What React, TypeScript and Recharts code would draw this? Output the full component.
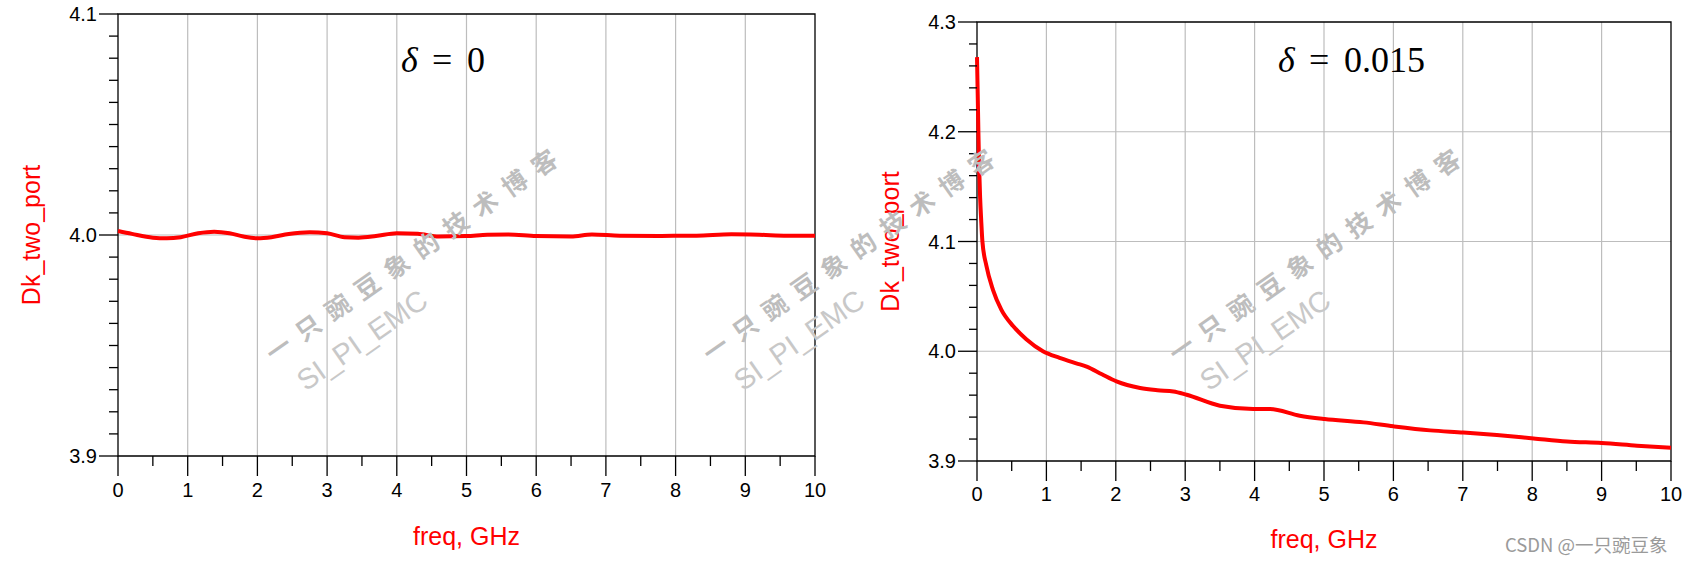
import React from 'react';
import { LineChart, Line, XAxis, YAxis, CartesianGrid, ReferenceArea } from 'recharts';

// ---------- data ----------
const freqLeft = [0, 0.2, 0.5, 0.7, 0.9, 1.15, 1.38, 1.6, 1.8, 2.0, 2.2, 2.45, 2.75, 3.0, 3.25, 3.45, 3.7, 4.0, 4.3, 4.6, 5.0, 5.3, 5.6, 6.0, 6.5, 6.8, 7.2, 7.8, 8.3, 8.8, 9.2, 9.6, 10];
const dkLeft = [4.0018, 4.0005, 3.9988, 3.9985, 3.999, 4.0008, 4.0015, 4.0008, 3.9993, 3.9985, 3.999, 4.0005, 4.0013, 4.0008, 3.999, 3.9988, 3.9995, 4.0008, 4.0006, 3.9993, 3.9995, 4.0001, 4.0002, 3.9995, 3.9993, 4.0002, 3.9997, 3.9996, 3.9997, 4.0003, 4.0001, 3.9997, 3.9997];

const freqRight = [0, 0.01, 0.02, 0.03, 0.045, 0.06, 0.078, 0.135, 0.23, 0.35, 0.52, 0.71, 0.95, 1.19, 1.43, 1.58, 1.8, 2.01, 2.35, 2.6, 2.83, 3.02, 3.5, 3.98, 4.22, 4.65, 5.01, 5.57, 6.0, 6.53, 7.01, 7.49, 8.02, 8.5, 9.0, 9.51, 10];
const dkRight = [4.268, 4.235, 4.2, 4.17, 4.14, 4.12, 4.1, 4.078, 4.056, 4.038, 4.023, 4.011, 4.0, 3.994, 3.989, 3.986, 3.979, 3.9725, 3.9665, 3.9645, 3.9634, 3.9604, 3.9504, 3.9474, 3.9474, 3.9413, 3.9383, 3.9352, 3.9316, 3.9279, 3.926, 3.9237, 3.9206, 3.9178, 3.9164, 3.914, 3.912];

const xMajorTicks = [0, 1, 2, 3, 4, 5, 6, 7, 8, 9, 10];
const xMinorTicks = [0.5, 1.5, 2.5, 3.5, 4.5, 5.5, 6.5, 7.5, 8.5, 9.5];
const xGridValues = [1, 2, 3, 4, 5, 6, 7, 8, 9];

const yLeftMajor = [3.9, 4.0, 4.1];
const yLeftMinor = [3.91, 3.92, 3.93, 3.94, 3.95, 3.96, 3.97, 3.98, 3.99, 4.01, 4.02, 4.03, 4.04, 4.05, 4.06, 4.07, 4.08, 4.09];
const yLeftGrid = [4.0];

const yRightMajor = [3.9, 4.0, 4.1, 4.2, 4.3];
const yRightMinor = [3.92, 3.94, 3.96, 3.98, 4.02, 4.04, 4.06, 4.08, 4.12, 4.14, 4.16, 4.18, 4.22, 4.24, 4.26, 4.28];
const yRightGrid = [4.0, 4.1, 4.2];

const deltaSymbol = 'δ';
const deltaLeftValue = '0';
const deltaRightValue = '0.015';
const xLabel = 'freq, GHz';
const yLabel = 'Dk_two_port';
const watermarkCn = '一只豌豆象的技术博客';
const watermarkEn = 'SI_PI_EMC';
const csdnMark = 'CSDN @一只豌豆象';

const leftData = freqLeft.map((f, i) => ({ f, dk: dkLeft[i] }));
const rightData = freqRight.map((f, i) => ({ f, dk: dkRight[i] }));

const SANS = '"Liberation Sans", Arial, sans-serif';
const SERIF = '"Liberation Serif", "DejaVu Serif", serif';
const CJK = '"Noto Sans CJK SC", sans-serif';

const isIn = (arr: number[], v: number) => arr.some((a) => Math.abs(a - v) < 1e-9);

const makeXTick = (labelDy: number) => (props: any) => {
  const { x, y, payload } = props;
  const major = isIn(xMajorTicks, payload.value);
  return (
    <g>
      <line x1={x} x2={x} y1={y} y2={y + (major ? 20 : 10)} stroke="#000" strokeWidth={1.3} />
      {major && (
        <text x={x} y={y + labelDy} textAnchor="middle" dominantBaseline="central" fontSize={20} fill="#000" fontFamily={SANS}>
          {payload.value}
        </text>
      )}
    </g>
  );
};

const makeYTick = (majors: number[], majorLen: number, minorLen: number, gap: number) => (props: any) => {
  const { x, y, payload } = props;
  const major = isIn(majors, payload.value);
  return (
    <g>
      <line x1={x - (major ? majorLen : minorLen)} x2={x} y1={y} y2={y} stroke="#000" strokeWidth={1.3} />
      {major && (
        <text x={x - gap} y={y} textAnchor="end" dominantBaseline="central" fontSize={20} fill="#000" fontFamily={SANS}>
          {Number(payload.value).toFixed(1)}
        </text>
      )}
    </g>
  );
};

const makeYLabel = (cx: number) => (props: any) => {
  const vb = props.viewBox || {};
  const cy = vb.y + vb.height / 2;
  return (
    <text x={cx} y={cy} transform={`rotate(-90, ${cx}, ${cy})`} textAnchor="middle" dominantBaseline="central" fontSize={25} fill="#ff0000" fontFamily={SANS}>
      {yLabel}
    </text>
  );
};

const makeXLabel = (dy: number) => (props: any) => {
  const vb = props.viewBox || {};
  const cx = vb.x + vb.width / 2;
  return (
    <text x={cx} y={vb.y + dy} textAnchor="middle" fontSize={25} fill="#ff0000" fontFamily={SANS}>
      {xLabel}
    </text>
  );
};

const allXTicks = [...xMajorTicks, ...xMinorTicks].sort((a, b) => a - b);
const allYLeft = [...yLeftMajor, ...yLeftMinor].sort((a, b) => a - b);
const allYRight = [...yRightMajor, ...yRightMinor].sort((a, b) => a - b);

function Watermark({ dx }: { dx: number }) {
  return (
    <g>
      <text
        x={415 + dx}
        y={251}
        transform={`rotate(-35, ${415 + dx}, 251)`}
        textAnchor="middle"
        dominantBaseline="central"
        fontSize={25}
        fontWeight={700}
        letterSpacing={11}
        fill="#bdbdbd"
        fontFamily={CJK}
      >
        {watermarkCn}
      </text>
      <text
        x={362 + dx}
        y={340}
        transform={`rotate(-35, ${362 + dx}, 340)`}
        textAnchor="middle"
        dominantBaseline="central"
        fontSize={29}
        fill="#c8c8c8"
        fontFamily={SANS}
      >
        {watermarkEn}
      </text>
    </g>
  );
}

function DeltaNote({ x, value }: { x: number; value: string }) {
  return (
    <g fontSize={36} fill="#000" fontFamily={SERIF}>
      <text x={x} y={72} fontStyle="italic">{deltaSymbol}</text>
      <text x={x + 31} y={72}>=</text>
      <text x={x + 66} y={72}>{value}</text>
    </g>
  );
}

export default function App() {
  return (
    <div style={{ position: 'absolute', left: 0, top: 0, width: 1691, height: 563, background: '#fff', overflow: 'hidden' }}>
      <div style={{ position: 'absolute', left: 0, top: 0 }}>
        <LineChart width={840} height={563} data={leftData} margin={{ top: 14, right: 25, bottom: 7, left: 0 }}>
          <CartesianGrid stroke="#bdbdbd" strokeWidth={1.2} verticalValues={xGridValues} horizontalValues={yLeftGrid} />
          <XAxis
            dataKey="f"
            type="number"
            domain={[0, 10]}
            ticks={allXTicks}
            interval={0}
            height={100}
            tickSize={0}
            tickMargin={0}
            tickLine={false}
            axisLine={false}
            tick={makeXTick(34)}
            label={{ content: makeXLabel(89) }}
          />
          <YAxis
            type="number"
            domain={[3.9, 4.1]}
            ticks={allYLeft}
            interval={0}
            width={118}
            tickSize={0}
            tickMargin={0}
            tickLine={false}
            axisLine={false}
            tick={makeYTick(yLeftMajor, 19, 9, 21)}
            label={{ content: makeYLabel(31) }}
          />
          <ReferenceArea x1={0} x2={10} y1={3.9} y2={4.1} fill="none" stroke="#000" strokeWidth={1.3} />
          <Line type="monotone" dataKey="dk" stroke="#ff0000" strokeWidth={4} dot={false} isAnimationActive={false} />
        </LineChart>
      </div>
      <div style={{ position: 'absolute', left: 840, top: 0 }}>
        <LineChart width={851} height={563} data={rightData} margin={{ top: 22, right: 20, bottom: 2, left: 0 }}>
          <CartesianGrid stroke="#bdbdbd" strokeWidth={1.2} verticalValues={xGridValues} horizontalValues={yRightGrid} />
          <XAxis
            dataKey="f"
            type="number"
            domain={[0, 10]}
            ticks={allXTicks}
            interval={0}
            height={100}
            tickSize={0}
            tickMargin={0}
            tickLine={false}
            axisLine={false}
            tick={makeXTick(33)}
            label={{ content: makeXLabel(87) }}
          />
          <YAxis
            type="number"
            domain={[3.9, 4.3]}
            ticks={allYRight}
            interval={0}
            width={137}
            tickSize={0}
            tickMargin={0}
            tickLine={false}
            axisLine={false}
            tick={makeYTick(yRightMajor, 19, 8, 21)}
            label={{ content: makeYLabel(50) }}
          />
          <ReferenceArea x1={0} x2={10} y1={3.9} y2={4.3} fill="none" stroke="#000" strokeWidth={1.3} />
          <Line type="monotone" dataKey="dk" stroke="#ff0000" strokeWidth={4} dot={false} isAnimationActive={false} />
        </LineChart>
      </div>
      <svg width={1691} height={563} style={{ position: 'absolute', left: 0, top: 0, pointerEvents: 'none' }}>
        <DeltaNote x={401} value={deltaLeftValue} />
        <DeltaNote x={1278} value={deltaRightValue} />
        <Watermark dx={0} />
        <Watermark dx={437} />
        <Watermark dx={903} />
        <text x={1505} y={552} fontSize={18.5} fill="#9a9a9a" fontFamily={CJK}>
          {csdnMark}
        </text>
      </svg>
    </div>
  );
}
